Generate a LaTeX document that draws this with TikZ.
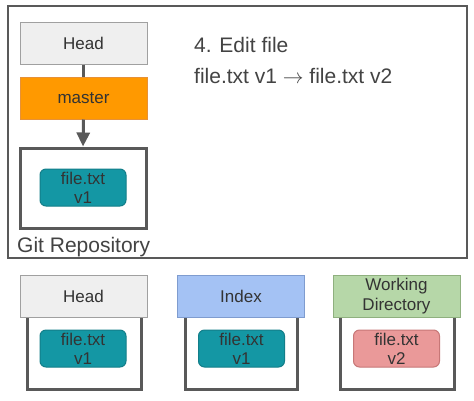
\documentclass[tikz,border=0pt]{standalone}
\usepackage{fontspec}
\setmainfont{Liberation Sans}
\usetikzlibrary{arrows.meta}
\definecolor{frame}{HTML}{595959}
\definecolor{txt}{HTML}{333333}
\definecolor{ttl}{HTML}{434343}
\definecolor{headfill}{HTML}{EFEFEF}
\definecolor{hdborder}{HTML}{A0A0A0}
\definecolor{orange}{HTML}{FF9900}
\definecolor{orangeb}{HTML}{E69138}
\definecolor{teal}{HTML}{1497A4}
\definecolor{tealb}{HTML}{137E89}
\definecolor{idx}{HTML}{A4C2F4}
\definecolor{idxb}{HTML}{7F9CCF}
\definecolor{wd}{HTML}{B6D7A8}
\definecolor{wdb}{HTML}{8FB07F}
\definecolor{pink}{HTML}{EA9999}
\definecolor{pinkb}{HTML}{C77777}
\tikzset{
  hdr/.style={draw=hdborder, line width=1pt, minimum width=127pt, minimum height=42pt, inner sep=0pt, font=\fontsize{17}{20}\selectfont, text=txt, align=center},
  pill/.style={rounded corners=6pt, line width=1pt, minimum width=86pt, minimum height=37pt, inner sep=0pt, font=\fontsize{17}{19}\selectfont, text=txt, align=center},
  cont/.style={draw=frame, line width=3pt},
  big/.style={anchor=base west, font=\fontsize{21}{24}\selectfont, text=ttl, inner sep=0pt},
}
\begin{document}
\begin{tikzpicture}[x=1pt,y=-1pt]
\useasboundingbox (0,0) rectangle (474,400);
\fill[white] (0,0) rectangle (474,400);
% outer frame
\node[draw=frame, line width=2pt, minimum width=459pt, minimum height=252pt, inner sep=0pt] (repo) at (237.5,132) {};
\node[big] (gitlabel) at (17,252) {Git Repository};
\node[big] (title1) at (194,52) {4. Edit file};
\node[big] (title2) at (194,83) {file.txt v1 $\rightarrow$ file.txt v2};
% top structure
\node[hdr, fill=headfill] (head) at (83.5,43) {Head};
\node[hdr, fill=orange, draw=orangeb] (master) at (83.5,98) {master};
\node[draw=frame, line width=3pt, minimum width=126pt, minimum height=80pt, inner sep=0pt] (commit) at (83,188) {};
\node[pill, fill=teal, draw=tealb] (f0) at (83,187.5) {file.txt\\v1};
\draw[frame, line width=3pt] (head.south) -- (master.north);
\draw[frame, line width=3pt, -{Triangle[length=14pt,width=13pt]}] (master.south) -- (commit.north);
% bottom containers
\node[hdr, fill=headfill] (h2) at (83.5,296.5) {Head};
\coordinate (h2a) at (27,318); \coordinate (h2b) at (27,389); \coordinate (h2c) at (141,389); \coordinate (h2d) at (141,318);
\draw[cont] (h2a) -- (h2b) -- (h2c) -- (h2d);
\node[pill, fill=teal, draw=tealb] (f1) at (83,348.5) {file.txt\\v1};

\node[hdr, fill=idx, draw=idxb] (idx) at (241,296.5) {Index};
\coordinate (i2a) at (185,318); \coordinate (i2b) at (185,389); \coordinate (i2c) at (297,389); \coordinate (i2d) at (297,318);
\draw[cont] (i2a) -- (i2b) -- (i2c) -- (i2d);
\node[pill, fill=teal, draw=tealb] (f2) at (241.5,348.5) {file.txt\\v1};

\node[hdr, fill=wd, draw=wdb] (wd) at (396.5,296.5) {Working\\Directory};
\coordinate (w2a) at (340,318); \coordinate (w2b) at (340,389); \coordinate (w2c) at (454,389); \coordinate (w2d) at (454,318);
\draw[cont] (w2a) -- (w2b) -- (w2c) -- (w2d);
\node[pill, fill=pink, draw=pinkb] (f3) at (396.5,348.5) {file.txt\\v2};
\end{tikzpicture}
\end{document}
